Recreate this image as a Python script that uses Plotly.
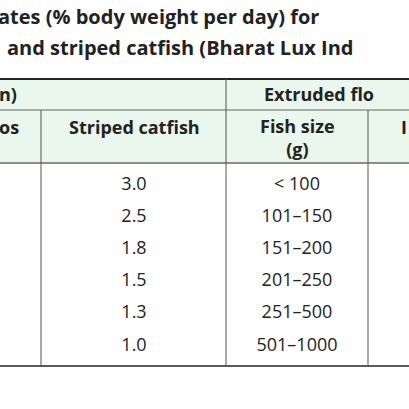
import plotly.graph_objects as go

# visible part of the table (cropped on both sides in the source)
title_lines = ["ates (% body weight per day) for", "and striped catfish (Bharat Lux Ind"]
group_headers = ["n)", "Extruded flo"]
col_headers = ["os", "Striped catfish", "Fish size<br>(g)", "I"]
striped_catfish = ["3.0", "2.5", "1.8", "1.5", "1.3", "1.0"]
fish_size = ["< 100", "101–150", "151–200", "201–250", "251–500", "501–1000"]

# layout constants in pixel units of the 409x409 canvas
col_lines = [41, 226, 368]
col_centers = [134, 297]
top, mid, head_bottom, bottom = 79, 110, 163, 366
row_y0, row_h = 185, 32.2
dark = "#222222"
font = "Open Sans"

fig = go.Figure()
fig.add_shape(type="rect", x0=0, x1=409, y0=top, y1=head_bottom,
              fillcolor="#e9f7ec", line_width=0, layer="below")
fig.add_shape(type="line", x0=0, x1=409, y0=top, y1=top, line=dict(color=dark, width=2))
fig.add_shape(type="line", x0=0, x1=409, y0=mid, y1=mid, line=dict(color="#666", width=1))
fig.add_shape(type="line", x0=0, x1=409, y0=head_bottom, y1=head_bottom, line=dict(color=dark, width=1))
fig.add_shape(type="line", x0=0, x1=409, y0=bottom, y1=bottom, line=dict(color=dark, width=1.5))
for x in col_lines:
    fig.add_shape(type="line", x0=x, x1=x, y0=top if x == 226 else mid, y1=bottom,
                  line=dict(color="#555", width=1))

tfont = dict(family=font, size=20, color=dark, weight="bold")
fig.add_annotation(x=0, y=16, text=title_lines[0], xanchor="left", showarrow=False,
                   xshift=-4, font=tfont)
fig.add_annotation(x=5, y=47, text=title_lines[1], xanchor="left", showarrow=False, font=tfont)

hfont = dict(family=font, size=18, color=dark, weight="bold")
fig.add_annotation(x=0, y=94, text=group_headers[0], xanchor="left", showarrow=False,
                   xshift=-3, font=hfont)
fig.add_annotation(x=262, y=94, text=group_headers[1], xanchor="left", showarrow=False, font=hfont)
fig.add_annotation(x=0, y=127, text=col_headers[0], xanchor="left", showarrow=False,
                   xshift=-3, font=hfont)
fig.add_annotation(x=col_centers[0], y=127, text=col_headers[1], showarrow=False, font=hfont)
fig.add_annotation(x=col_centers[1], y=137, text=col_headers[2], showarrow=False, font=hfont)
fig.add_annotation(x=399, y=127, text=col_headers[3], xanchor="left", showarrow=False, font=hfont)

ys = [row_y0 + i * row_h for i in range(len(fish_size))]
dfont = dict(family=font, size=18, color=dark)
fig.add_trace(go.Scatter(x=[col_centers[0]] * len(ys), y=ys, text=striped_catfish,
                         mode="text", textfont=dfont, hoverinfo="skip", cliponaxis=False))
fig.add_trace(go.Scatter(x=[col_centers[1]] * len(ys), y=ys, text=fish_size,
                         mode="text", textfont=dfont, hoverinfo="skip", cliponaxis=False))

fig.update_layout(width=409, height=409, margin=dict(l=0, r=0, t=0, b=0),
                  showlegend=False, plot_bgcolor="white", paper_bgcolor="white",
                  xaxis=dict(range=[0, 409], visible=False, fixedrange=True),
                  yaxis=dict(range=[409, 0], visible=False, fixedrange=True))
fig.write_html("out.html", config={"displayModeBar": False},
               post_script="document.body.style.margin='0';")
